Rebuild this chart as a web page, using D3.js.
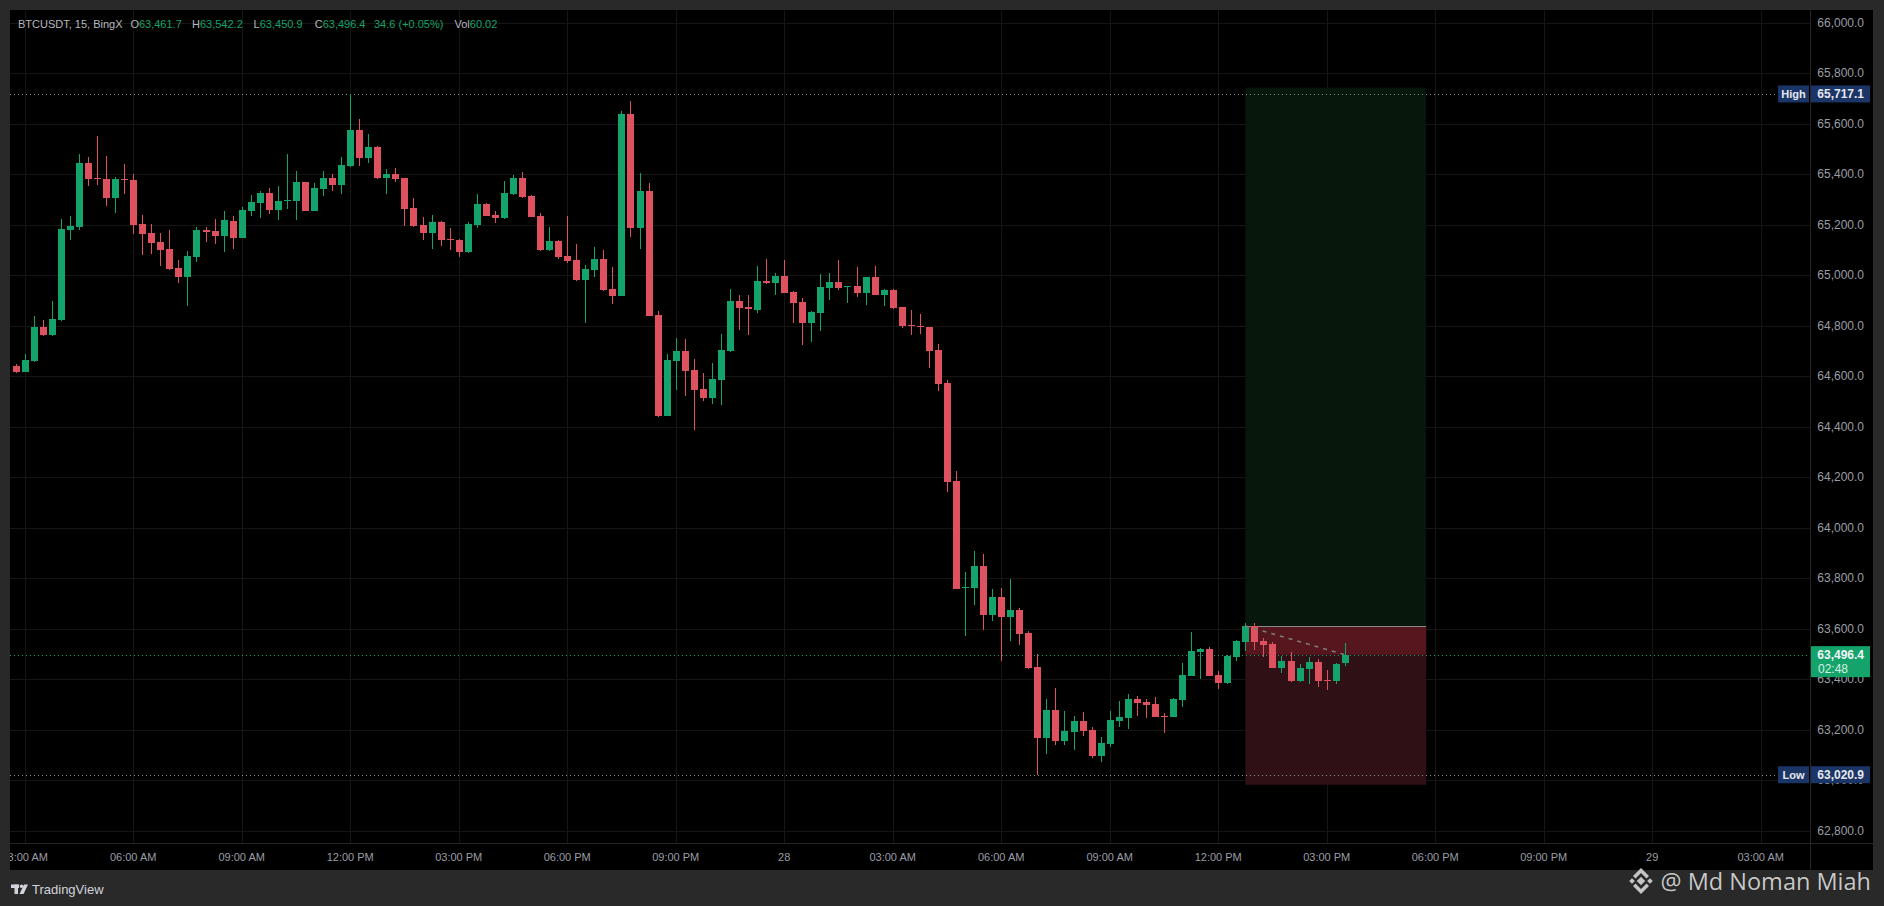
<!DOCTYPE html>
<html>
<head>
<meta charset="utf-8">
<script src="https://cdn.jsdelivr.net/npm/d3@7"></script>
<style>
  html, body { margin: 0; padding: 0; background: #292929; overflow: hidden; }
  svg { display: block; }
</style>
</head>
<body>
<svg id="chart" width="1884" height="906"></svg>
<script>
// BTCUSDT 15m, BingX — first bar opens on the 27th at 02:45
const startTime = Date.UTC(2024, 5, 27, 2, 45);
const barMinutes = 15;

const opens = [
  64640, 64616, 64660, 64794, 64762, 64822, 65178, 65190, 65444, 65384,
  65380, 65305, 65380, 65376, 65202, 65166, 65131, 65103, 65028, 64992,
  65071, 65177, 65174, 65154, 65214, 65147, 65254, 65285, 65325, 65257,
  65294, 65293, 65368, 65254, 65341, 65384, 65356, 65432, 65574, 65463,
  65507, 65384, 65400, 65384, 65265, 65198, 65166, 65210, 65143, 65139,
  65091, 65198, 65281, 65238, 65226, 65321, 65384, 65313, 65234, 65099,
  65135, 65075, 65059, 64980, 65020, 65063, 64945, 64917, 65638, 65186,
  65333, 64842, 64442, 64660, 64699, 64624, 64549, 64513, 64584, 64699,
  64897, 64873, 64862, 64976, 64968, 64996, 64933, 64893, 64810, 64850,
  64949, 64972, 64954, 64957, 64929, 64992, 64921, 64941, 64873, 64802,
  64798, 64794, 64703, 64572, 64184, 63759, 63761, 63848, 63654, 63725,
  63646, 63674, 63582, 63448, 63167, 63277, 63155, 63190, 63234, 63198,
  63095, 63143, 63234, 63246, 63321, 63309, 63301, 63254, 63250, 63317,
  63412, 63507, 63519, 63416, 63384, 63487, 63547, 63610, 63551, 63539,
  63444, 63472, 63392, 63440, 63468, 63396, 63392, 63461.7
];
const highs = [
  64648, 64687, 64838, 64822, 64897, 65222, 65234, 65479, 65467, 65550,
  65471, 65388, 65440, 65400, 65238, 65202, 65166, 65178, 65059, 65095,
  65190, 65190, 65222, 65254, 65234, 65269, 65317, 65333, 65345, 65353,
  65479, 65412, 65370, 65364, 65412, 65400, 65467, 65717.1, 65618, 65558,
  65511, 65420, 65424, 65386, 65305, 65230, 65238, 65212, 65186, 65141,
  65210, 65321, 65285, 65254, 65372, 65396, 65408, 65317, 65246, 65190,
  65137, 65234, 65123, 65040, 65111, 65099, 65032, 65650, 65689, 65404,
  65364, 64857, 64687, 64751, 64747, 64667, 64612, 64651, 64766, 64945,
  64921, 64921, 65036, 65063, 65008, 65059, 64935, 64909, 64856, 65004,
  65008, 65059, 64958, 65032, 64994, 65036, 64943, 64943, 64875, 64862,
  64846, 64796, 64727, 64584, 64224, 63824, 63907, 63895, 63757, 63761,
  63796, 63681, 63590, 63499, 63321, 63365, 63273, 63254, 63270, 63210,
  63171, 63273, 63313, 63341, 63333, 63321, 63329, 63266, 63325, 63464,
  63586, 63521, 63527, 63432, 63495, 63555, 63622, 63622, 63563, 63547,
  63491, 63507, 63460, 63487, 63479, 63436, 63464, 63542.2
];
const lows = [
  64612, 64614, 64656, 64760, 64758, 64818, 65139, 65178, 65352, 65356,
  65273, 65246, 65321, 65162, 65079, 65083, 65036, 65020, 64968, 64877,
  65051, 65131, 65123, 65091, 65103, 65145, 65234, 65226, 65242, 65218,
  65261, 65218, 65252, 65252, 65313, 65333, 65321, 65428, 65432, 65444,
  65380, 65321, 65368, 65194, 65192, 65139, 65103, 65115, 65099, 65071,
  65089, 65186, 65232, 65206, 65222, 65317, 65305, 65228, 65097, 65097,
  65063, 65048, 64978, 64810, 64992, 64937, 64885, 64915, 65151, 65103,
  64836, 64438, 64440, 64545, 64521, 64386, 64501, 64489, 64485, 64697,
  64782, 64762, 64850, 64964, 64921, 64927, 64810, 64723, 64735, 64778,
  64901, 64941, 64889, 64913, 64881, 64919, 64877, 64867, 64790, 64762,
  64766, 64632, 64541, 64141, 63755, 63570, 63693, 63594, 63630, 63472,
  63551, 63535, 63440, 63020.9, 63103, 63139, 63139, 63119, 63175, 63087,
  63071, 63131, 63210, 63202, 63254, 63246, 63248, 63186, 63248, 63289,
  63410, 63400, 63410, 63361, 63382, 63471, 63511, 63515, 63487, 63442,
  63424, 63390, 63390, 63380, 63369, 63357, 63380, 63450.9
];
const closes = [
  64616, 64663, 64794, 64762, 64826, 65182, 65194, 65444, 65380, 65381,
  65305, 65380, 65378, 65198, 65162, 65127, 65099, 65024, 64992, 65075,
  65178, 65172, 65154, 65218, 65147, 65257, 65289, 65325, 65257, 65293,
  65297, 65368, 65254, 65345, 65384, 65356, 65436, 65574, 65463, 65507,
  65384, 65400, 65380, 65261, 65194, 65166, 65210, 65139, 65140, 65091,
  65202, 65281, 65234, 65226, 65325, 65384, 65309, 65230, 65099, 65135,
  65071, 65056, 64980, 65024, 65063, 64941, 64917, 65638, 65186, 65333,
  64838, 64442, 64663, 64699, 64620, 64545, 64513, 64588, 64703, 64897,
  64869, 64864, 64976, 64970, 64996, 64929, 64889, 64810, 64854, 64953,
  64972, 64949, 64957, 64929, 64992, 64921, 64941, 64869, 64798, 64799,
  64795, 64699, 64568, 64180, 63757, 63763, 63848, 63654, 63725, 63646,
  63674, 63578, 63444, 63167, 63277, 63155, 63194, 63234, 63194, 63095,
  63147, 63238, 63250, 63321, 63305, 63297, 63250, 63251, 63321, 63416,
  63511, 63519, 63412, 63384, 63491, 63551, 63610, 63547, 63535, 63444,
  63472, 63392, 63444, 63468, 63392, 63394, 63460, 63496.4
];

const priceTicks = [62800, 63000, 63200, 63400, 63600, 63800, 64000, 64200,
  64400, 64600, 64800, 65000, 65200, 65400, 65600, 65800, 66000];

// header legend
const symbolTitle = "BTCUSDT, 15, BingX";
const legendKeys = ["O", "H", "L", "C"];
const legendValues = ["63,461.7", "63,542.2", "63,450.9", "63,496.4"];
const legendChange = "34.6 (+0.05%)";
const legendVolume = "60.02";
const countdown = "02:48";

// long position tool
const positionEntry = 63610;
const positionTarget = 65742;
const positionStop = 62981;
const positionFromBar = 136;
const positionToBar = 156;

const upColor = "#14a46b";
const downColor = "#dd525e";
const gridColor = "#151515";
const axisText = "#9a9da5";
const font = "'Liberation Sans', Arial, sans-serif";

const W = 1884, H = 906;
const frame = { left: 10, top: 10, right: 1873, bottom: 870 };
const plotRight = 1810, plotBottom = 843;

const barTime = i => new Date(startTime + i * barMinutes * 60000);
const bars = opens.map((o, i) => ({
  t: barTime(i), o, h: highs[i], l: lows[i], c: closes[i]
}));

const x = d3.scaleUtc()
  .domain([Date.UTC(2024, 5, 27, 3), Date.UTC(2024, 5, 29, 3)])
  .range([24.7, 1760.7]);
const y = d3.scaleLinear()
  .domain([62800, 66000])
  .range([830.5, 22.5]);

const svg = d3.select("#chart");

svg.append("rect").attr("width", W).attr("height", H).attr("fill", "#292929");
svg.append("rect")
  .attr("x", frame.left).attr("y", frame.top)
  .attr("width", frame.right - frame.left).attr("height", frame.bottom - frame.top)
  .attr("fill", "#000");

const defs = svg.append("defs");
defs.append("clipPath").attr("id", "plotClip")
  .append("rect").attr("x", frame.left).attr("y", frame.top)
  .attr("width", plotRight - frame.left).attr("height", plotBottom - frame.top);
defs.append("clipPath").attr("id", "timeClip")
  .append("rect").attr("x", frame.left).attr("y", plotBottom)
  .attr("width", plotRight - frame.left).attr("height", frame.bottom - plotBottom);

const plot = svg.append("g").attr("clip-path", "url(#plotClip)");

// grid
const timeTicks = d3.utcHour.every(3).range(
  new Date(Date.UTC(2024, 5, 27, 3)), new Date(Date.UTC(2024, 5, 29, 3, 1)));

plot.append("g").selectAll("line").data(priceTicks).join("line")
  .attr("x1", frame.left).attr("x2", plotRight)
  .attr("y1", d => Math.round(y(d)) + 0.5).attr("y2", d => Math.round(y(d)) + 0.5)
  .attr("stroke", gridColor).attr("stroke-width", 1);
plot.append("g").selectAll("line").data(timeTicks).join("line")
  .attr("x1", d => Math.round(x(d)) + 0.5).attr("x2", d => Math.round(x(d)) + 0.5)
  .attr("y1", frame.top).attr("y2", plotBottom)
  .attr("stroke", gridColor).attr("stroke-width", 1);

// position tool boxes
const step = x(barTime(1)) - x(barTime(0));
const posX0 = x(barTime(positionFromBar));
const posX1 = x(barTime(positionToBar));
const lastClose = closes[closes.length - 1];
const pos = plot.append("g");
pos.append("rect")
  .attr("x", posX0).attr("width", posX1 - posX0)
  .attr("y", y(positionTarget)).attr("height", y(positionEntry) - y(positionTarget))
  .attr("fill", "#08170c");
pos.append("rect")
  .attr("x", posX0).attr("width", posX1 - posX0)
  .attr("y", y(positionEntry)).attr("height", y(positionStop) - y(positionEntry))
  .attr("fill", "#2f1015");
pos.append("rect")
  .attr("x", posX0).attr("width", posX1 - posX0)
  .attr("y", y(positionEntry)).attr("height", y(lastClose) - y(positionEntry))
  .attr("fill", "#56161e");
pos.append("line")
  .attr("x1", posX0).attr("x2", posX1)
  .attr("y1", Math.round(y(positionEntry)) + 0.5).attr("y2", Math.round(y(positionEntry)) + 0.5)
  .attr("stroke", "#8a8a8a").attr("stroke-width", 1);

// high / low / last price lines
const hiVal = d3.max(highs), loVal = d3.min(lows);
[[hiVal, "#8f8f8f", 1778], [loVal, "#8f8f8f", 1780], [lastClose, upColor, plotRight]].forEach(([v, col, xEnd]) => {
  plot.append("line")
    .attr("x1", frame.left).attr("x2", xEnd)
    .attr("y1", Math.round(y(v)) + 0.5).attr("y2", Math.round(y(v)) + 0.5)
    .attr("stroke", col).attr("stroke-width", 1).attr("stroke-dasharray", "1 3");
});

// candles
const candles = plot.append("g").selectAll("g").data(bars).join("g");
candles.append("rect")
  .attr("x", d => Math.round(x(d.t)))
  .attr("width", 1)
  .attr("y", d => Math.round(y(d.h)))
  .attr("height", d => Math.max(1, Math.round(y(d.l)) - Math.round(y(d.h))))
  .attr("fill", d => d.c >= d.o ? upColor : downColor);
candles.append("rect")
  .attr("x", d => Math.round(x(d.t)) - 3)
  .attr("width", Math.round(step * 0.78))
  .attr("y", d => Math.round(y(Math.max(d.o, d.c))))
  .attr("height", d => Math.max(1, Math.round(y(Math.min(d.o, d.c))) - Math.round(y(Math.max(d.o, d.c)))))
  .attr("fill", d => d.c >= d.o ? upColor : downColor);

// dashed line entry -> current bar
plot.append("line")
  .attr("x1", posX0).attr("y1", y(positionEntry))
  .attr("x2", x(bars[bars.length - 1].t)).attr("y2", y(lastClose))
  .attr("stroke", "#7d7d7d").attr("stroke-width", 1.5).attr("stroke-dasharray", "4 5");

// separators
svg.append("line").attr("x1", plotRight + 0.5).attr("x2", plotRight + 0.5)
  .attr("y1", frame.top).attr("y2", frame.bottom).attr("stroke", "#262626");
svg.append("line").attr("x1", frame.left).attr("x2", frame.right)
  .attr("y1", plotBottom + 0.5).attr("y2", plotBottom + 0.5).attr("stroke", "#262626");

// price axis
svg.append("g").selectAll("text").data(priceTicks).join("text")
  .attr("x", 1864).attr("y", d => y(d)).attr("dy", "0.35em")
  .attr("text-anchor", "end")
  .attr("font-family", font).attr("font-size", 12).attr("fill", axisText)
  .text(d => d3.format(",.1f")(d));

// time axis
const fmtTick = d => d.getUTCHours() === 0 ? d3.utcFormat("%-d")(d) : d3.utcFormat("%I:%M %p")(d);
svg.append("g").attr("clip-path", "url(#timeClip)")
  .selectAll("text").data(timeTicks).join("text")
  .attr("x", d => x(d)).attr("y", 857).attr("dy", "0.35em")
  .attr("text-anchor", "middle")
  .attr("font-family", font).attr("font-size", 11).attr("fill", axisText)
  .text(fmtTick);

// price labels on the axis
function axisTag(v, label, fill) {
  const cy = y(v);
  svg.append("rect").attr("x", 1811).attr("y", cy - 8.5).attr("width", 59).attr("height", 17)
    .attr("fill", fill);
  svg.append("text").attr("x", 1864).attr("y", cy).attr("dy", "0.36em")
    .attr("text-anchor", "end").attr("font-family", font).attr("font-size", 12)
    .attr("font-weight", "bold").attr("fill", "#e6e8ee").text(d3.format(",.1f")(v));
  svg.append("rect").attr("x", 1778).attr("y", cy - 8.5).attr("width", 31).attr("height", 17)
    .attr("fill", fill);
  svg.append("text").attr("x", 1793.5).attr("y", cy).attr("dy", "0.36em")
    .attr("text-anchor", "middle").attr("font-family", font).attr("font-size", 11)
    .attr("font-weight", "bold").attr("fill", "#e6e8ee").text(label);
}
axisTag(hiVal, "High", "#1b3567");
axisTag(loVal, "Low", "#1b3567");

// last price tag
const lcY = y(lastClose);
svg.append("rect").attr("x", 1811).attr("y", lcY - 8.5).attr("width", 59).attr("height", 31)
  .attr("fill", upColor);
svg.append("text").attr("x", 1864).attr("y", lcY).attr("dy", "0.36em")
  .attr("text-anchor", "end").attr("font-family", font).attr("font-size", 12)
  .attr("font-weight", "bold").attr("fill", "#f2f4f7").text(d3.format(",.1f")(lastClose));
svg.append("text").attr("x", 1818).attr("y", lcY + 14).attr("dy", "0.36em")
  .attr("text-anchor", "start").attr("font-family", font).attr("font-size", 12)
  .attr("fill", "#d8efe4").text(countdown);

// legend
const legend = svg.append("text").attr("y", 28).attr("font-family", font).attr("font-size", 11);
legend.append("tspan").attr("x", 18).attr("fill", "#b5b8bf").text(symbolTitle);
const keyX = [130.4, 192, 253.6, 314.7];
legendKeys.forEach((k, i) => {
  legend.append("tspan").attr("x", keyX[i]).attr("fill", "#b5b8bf").text(k);
  legend.append("tspan").attr("fill", upColor).text(legendValues[i]);
});
legend.append("tspan").attr("x", 374).attr("fill", upColor).text(legendChange);
legend.append("tspan").attr("x", 454.5).attr("fill", "#b5b8bf").text("Vol");
legend.append("tspan").attr("fill", upColor).text(legendVolume);

// TradingView footer
const tv = svg.append("g").attr("fill", "#d1d4dc");
tv.append("rect").attr("x", 11).attr("y", 884.5).attr("width", 8).attr("height", 3.5);
tv.append("rect").attr("x", 14.5).attr("y", 884.5).attr("width", 3.5).attr("height", 9.5);
tv.append("circle").attr("cx", 21.5).attr("cy", 886.3).attr("r", 1.8);
tv.append("polygon").attr("points", "24,884.5 28,884.5 23.5,894 19.5,894");
svg.append("text").attr("x", 32).attr("y", 893.5)
  .attr("font-family", font).attr("font-size", 13).attr("fill", "#d1d4dc").text("TradingView");

// watermark
const wm = svg.append("g").attr("fill", "#c4c4c4").attr("transform", "translate(1641,881)");
wm.append("rect").attr("x", -3).attr("y", -3).attr("width", 6).attr("height", 6).attr("transform", "rotate(45)");
wm.append("rect").attr("x", -2).attr("y", -2).attr("width", 4).attr("height", 4).attr("transform", "translate(-9,0) rotate(45)");
wm.append("rect").attr("x", -2).attr("y", -2).attr("width", 4).attr("height", 4).attr("transform", "translate(9,0) rotate(45)");
wm.append("polygon").attr("points", "0,-13 8,-5 5.5,-2.5 0,-8 -5.5,-2.5 -8,-5");
wm.append("polygon").attr("points", "0,13 8,5 5.5,2.5 0,8 -5.5,2.5 -8,5");
svg.append("text").attr("x", 1871).attr("y", 890)
  .attr("text-anchor", "end").attr("font-family", "'Open Sans', sans-serif").attr("font-size", 23.5)
  .attr("fill", "#c8c8c8").attr("stroke", "#151515").attr("stroke-width", 0.6)
  .attr("paint-order", "stroke").text("@ Md Noman Miah");
</script>
</body>
</html>
